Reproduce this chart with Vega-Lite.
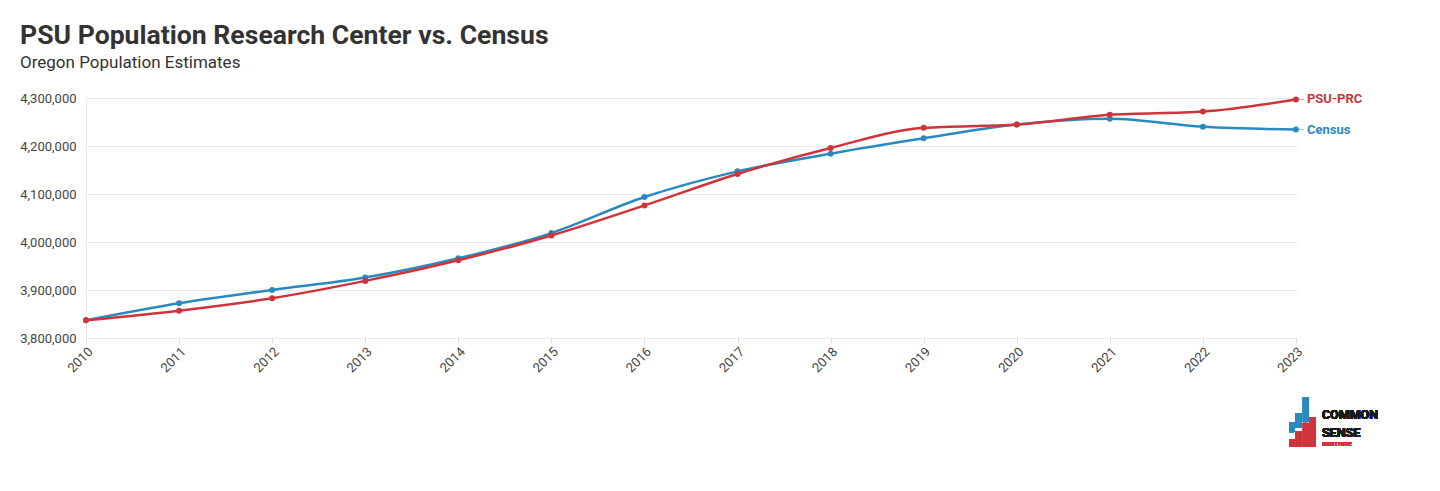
{
  "$schema": "https://vega.github.io/schema/vega-lite/v6.json",
  "width": 1212,
  "height": 240,
  "autosize": {"type": "none"},
  "padding": {"left": 86, "top": 98, "right": 142, "bottom": 153},
  "background": "white",
  "config": {
    "view": {"stroke": null},
    "font": "Roboto",
    "axis": {"labelFont": "Roboto", "labelFontSize": 13, "labelColor": "#444444", "titleFont": "Roboto"}
  },
  "title": {
    "text": "PSU Population Research Center vs. Census",
    "subtitle": "Oregon Population Estimates",
    "anchor": "start",
    "frame": "group",
    "dx": -66,
    "offset": 21,
    "font": "Roboto",
    "fontSize": 26.6,
    "fontWeight": "bold",
    "color": "#333333",
    "subtitleFont": "Roboto",
    "subtitleFontSize": 17,
    "subtitleColor": "#333333",
    "subtitlePadding": 5
  },
  "data": {
    "values": [
      {"year": 2010, "series": "Census", "value": 3837000},
      {"year": 2011, "series": "Census", "value": 3872400},
      {"year": 2012, "series": "Census", "value": 3900200},
      {"year": 2013, "series": "Census", "value": 3925900},
      {"year": 2014, "series": "Census", "value": 3966000},
      {"year": 2015, "series": "Census", "value": 4018600},
      {"year": 2016, "series": "Census", "value": 4093700},
      {"year": 2017, "series": "Census", "value": 4147200},
      {"year": 2018, "series": "Census", "value": 4184000},
      {"year": 2019, "series": "Census", "value": 4216000},
      {"year": 2020, "series": "Census", "value": 4244700},
      {"year": 2021, "series": "Census", "value": 4256600},
      {"year": 2022, "series": "Census", "value": 4239900},
      {"year": 2023, "series": "Census", "value": 4234200},
      {"year": 2010, "series": "PSU-PRC", "value": 3837000},
      {"year": 2011, "series": "PSU-PRC", "value": 3857000},
      {"year": 2012, "series": "PSU-PRC", "value": 3882900},
      {"year": 2013, "series": "PSU-PRC", "value": 3919000},
      {"year": 2014, "series": "PSU-PRC", "value": 3962000},
      {"year": 2015, "series": "PSU-PRC", "value": 4013600},
      {"year": 2016, "series": "PSU-PRC", "value": 4076200},
      {"year": 2017, "series": "PSU-PRC", "value": 4141800},
      {"year": 2018, "series": "PSU-PRC", "value": 4196000},
      {"year": 2019, "series": "PSU-PRC", "value": 4237800},
      {"year": 2020, "series": "PSU-PRC", "value": 4244700},
      {"year": 2021, "series": "PSU-PRC", "value": 4265000},
      {"year": 2022, "series": "PSU-PRC", "value": 4271800},
      {"year": 2023, "series": "PSU-PRC", "value": 4296900}
    ]
  },
  "resolve": {"scale": {"x": "independent", "y": "independent"}},
  "layer": [
    {
      "encoding": {
        "x": {
          "field": "year", "type": "quantitative",
          "scale": {"domain": [2010, 2023.022], "nice": false, "zero": false},
          "axis": {
            "title": null, "values": [2010, 2011, 2012, 2013, 2014, 2015, 2016, 2017, 2018, 2019, 2020, 2021, 2022, 2023],
            "format": "d", "labelAngle": -45, "grid": false, "domain": false,
            "ticks": true, "tickColor": "#dddddd", "tickSize": 5, "labelPadding": 2
          }
        },
        "y": {
          "field": "value", "type": "quantitative",
          "scale": {"domain": [3800000, 4300000], "nice": false, "zero": false},
          "axis": {
            "title": null, "values": [3800000, 3900000, 4000000, 4100000, 4200000, 4300000],
            "format": ",d", "grid": true, "gridColor": "#ebebeb", "domain": true, "domainColor": "#ebebeb",
            "ticks": false, "labelPadding": 10
          }
        },
        "color": {
          "field": "series", "type": "nominal",
          "scale": {"domain": ["Census", "PSU-PRC"], "range": ["#2a8ac0", "#d0343b"]},
          "legend": null
        }
      },
      "layer": [
        {"mark": {"type": "line", "interpolate": "monotone", "strokeWidth": 2.5}},
        {"mark": {"type": "point", "filled": true, "size": 36, "opacity": 1}},
        {
          "transform": [{"filter": "datum.year == 2023"}],
          "mark": {"type": "text", "align": "left", "baseline": "middle", "dx": 11, "fontSize": 13, "fontWeight": "bold", "font": "Roboto", "clip": false},
          "encoding": {"text": {"field": "series"}}
        }
      ]
    },
    {
      "layer": [
        {
          "transform": [{"filter": "datum.year == 2023"}],
          "mark": {"type": "rule", "color": "#b0b0b0", "strokeWidth": 1, "clip": false},
          "encoding": {
            "x": {"datum": 2023.035, "type": "quantitative", "scale": {"domain": [2010, 2023.022], "nice": false, "zero": false}, "axis": null},
            "x2": {"datum": 2023.086},
            "y": {"field": "value", "type": "quantitative", "scale": {"domain": [3800000, 4300000], "nice": false, "zero": false}, "axis": null}
          }
        },
        {
          "mark": {"type": "rect", "color": "#2a8ac0", "clip": false},
          "encoding": {
            "x": {"datum": 2022.925, "type": "quantitative", "axis": null},
            "x2": {"datum": 2022.983},
            "y": {"datum": 3625000, "type": "quantitative", "axis": null},
            "y2": {"datum": 3604000}
          }
        },
        {
          "mark": {"type": "rect", "color": "#2a8ac0", "clip": false},
          "encoding": {
            "x": {"datum": 2022.999, "type": "quantitative", "axis": null},
            "x2": {"datum": 2023.058},
            "y": {"datum": 3643700, "type": "quantitative", "axis": null},
            "y2": {"datum": 3612500}
          }
        },
        {
          "mark": {"type": "rect", "color": "#2a8ac0", "clip": false},
          "encoding": {
            "x": {"datum": 2023.075, "type": "quantitative", "axis": null},
            "x2": {"datum": 2023.134},
            "y": {"datum": 3677000, "type": "quantitative", "axis": null},
            "y2": {"datum": 3625000}
          }
        },
        {
          "mark": {"type": "rect", "color": "#d0343b", "clip": false},
          "encoding": {
            "x": {"datum": 2022.925, "type": "quantitative", "axis": null},
            "x2": {"datum": 2022.983},
            "y": {"datum": 3589500, "type": "quantitative", "axis": null},
            "y2": {"datum": 3573000}
          }
        },
        {
          "mark": {"type": "rect", "color": "#d0343b", "clip": false},
          "encoding": {
            "x": {"datum": 2022.999, "type": "quantitative", "axis": null},
            "x2": {"datum": 2023.058},
            "y": {"datum": 3606000, "type": "quantitative", "axis": null},
            "y2": {"datum": 3573000}
          }
        },
        {
          "mark": {"type": "rect", "color": "#d0343b", "clip": false},
          "encoding": {
            "x": {"datum": 2023.075, "type": "quantitative", "axis": null},
            "x2": {"datum": 2023.134},
            "y": {"datum": 3623000, "type": "quantitative", "axis": null},
            "y2": {"datum": 3573000}
          }
        },
        {
          "mark": {"type": "rect", "color": "#d0343b", "clip": false},
          "encoding": {
            "x": {"datum": 2023.140, "type": "quantitative", "axis": null},
            "x2": {"datum": 2023.215},
            "y": {"datum": 3635000, "type": "quantitative", "axis": null},
            "y2": {"datum": 3573000}
          }
        },
        {
          "mark": {"type": "text", "text": "COMMON", "align": "left", "baseline": "alphabetic", "font": "Roboto", "fontWeight": "bold", "fontSize": 12.5, "color": "#1a1a1a", "clip": false},
          "encoding": {
            "x": {"datum": 2023.279, "type": "quantitative", "axis": null},
            "y": {"datum": 3631000, "type": "quantitative", "axis": null}
          }
        },
        {
          "mark": {"type": "text", "text": "SENSE", "align": "left", "baseline": "alphabetic", "font": "Roboto", "fontWeight": "bold", "fontSize": 12.5, "color": "#1a1a1a", "clip": false},
          "encoding": {
            "x": {"datum": 2023.279, "type": "quantitative", "axis": null},
            "y": {"datum": 3593700, "type": "quantitative", "axis": null}
          }
        },
        {
          "mark": {"type": "text", "text": "INSTITUTE", "align": "left", "baseline": "alphabetic", "font": "Roboto", "fontWeight": "bold", "fontSize": 6, "letterSpacing": 1.6, "color": "#d0343b", "clip": false},
          "encoding": {
            "x": {"datum": 2023.279, "type": "quantitative", "axis": null},
            "y": {"datum": 3575000, "type": "quantitative", "axis": null}
          }
        }
      ]
    }
  ]
}
